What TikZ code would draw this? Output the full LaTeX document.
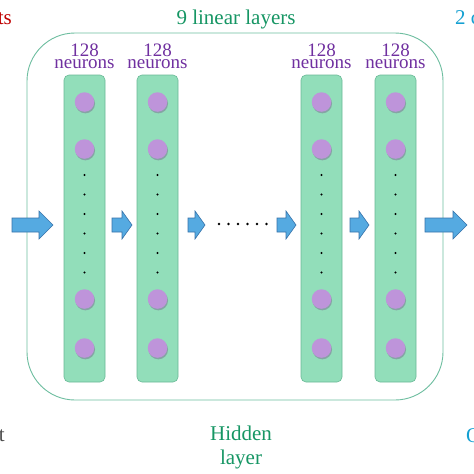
\documentclass[tikz,border=0pt]{standalone}
\usepackage{fontspec}
\setmainfont{Liberation Serif}
\definecolor{txtgreen}{RGB}{22,150,100}
\definecolor{boxline}{RGB}{110,190,160}
\definecolor{colfill}{RGB}{146,222,186}
\definecolor{colline}{RGB}{105,185,150}
\definecolor{neufill}{RGB}{190,148,218}
\definecolor{neushadow}{RGB}{120,95,140}
\definecolor{arrfill}{RGB}{85,170,225}
\definecolor{arrline}{RGB}{55,115,170}
\definecolor{txtpurple}{RGB}{112,48,160}
\definecolor{txtred}{RGB}{192,0,0}
\definecolor{txtblue}{RGB}{20,160,210}
\newcommand\blockarr[3]{%
  \draw[arrstyle] (#1,218) -- (#3,218) -- (#3,211) -- (#2,225) -- (#3,239) -- (#3,232) -- (#1,232) -- cycle;}
\begin{document}
\begin{tikzpicture}[x=1pt,y=-1pt,
  bigbox/.style={draw=boxline, line width=0.9pt, rounded corners=48pt, minimum width=416pt, minimum height=367pt, inner sep=0pt},
  colbox/.style={draw=colline, fill=colfill, line width=0.6pt, rounded corners=5pt, minimum width=41pt, minimum height=307pt, inner sep=0pt},
  neuron/.style={circle, fill=neufill, minimum size=19.5pt, inner sep=0pt},
  neushad/.style={circle, fill=neushadow, opacity=0.45, minimum size=19.5pt, inner sep=0pt},
  arrstyle/.style={fill=arrfill, draw=arrline, line width=0.6pt, line join=miter},
  lbl/.style={text=txtpurple, font=\fontsize{19}{12}\selectfont, align=center, anchor=center, inner sep=0pt},
  gtxt/.style={text=txtgreen, font=\fontsize{21}{24}\selectfont, anchor=base, inner sep=0pt}
]
\useasboundingbox (0,0) rectangle (474,474);
\clip (0,0) rectangle (474,474);
\fill[white] (0,0) rectangle (474,474);

% outer hidden-layer box
\node[bigbox] (hid) at (235,216.5) {};

% columns
\foreach \n/\x in {1/84.5, 2/157.5, 3/321.5, 4/395.5} {
  \node[colbox] (c\n) at (\x,228.5) {};
  \foreach \y [count=\k] in {102,149,299,348} {
    \node[neushad] at (\x+0.8,\y+1.6) {};
    \node[neuron] (n\n-\k) at (\x,\y) {};
  }
  \foreach \y in {175,194.5,214,233.5,253,272.5} {
    \fill[black] (\x,\y) circle (1.2pt);
  }
  \node[lbl] (t\n) at (\x,56.5) {128\\neurons};
}

% ellipsis between layers
\foreach \x in {219,228.5,238,247.5,257,266.5} {
  \fill[black] (\x,224) circle (1.3pt);
}

% block arrows
\blockarr{12}{53}{39}
\blockarr{112}{132}{122}
\blockarr{188}{205}{195}
\blockarr{277}{296}{286}
\blockarr{350}{369}{359}
\blockarr{425}{467}{453}

% texts
\node[gtxt] (title) at (236,24) {9 linear layers};
\node[gtxt] (hl1) at (241,440) {Hidden};
\node[gtxt] (hl2) at (241,464) {layer};
\node[gtxt, text=txtred, anchor=base east] (inp) at (12,24) {ts};
\node[gtxt, text=txtblue, anchor=base west] (outn) at (455,24) {2 c};
\node[gtxt, text=black!70, anchor=base east] (inl) at (5,441) {t};
\node[gtxt, text=txtblue, anchor=base west] (outl) at (466,442) {O};
\end{tikzpicture}
\end{document}
